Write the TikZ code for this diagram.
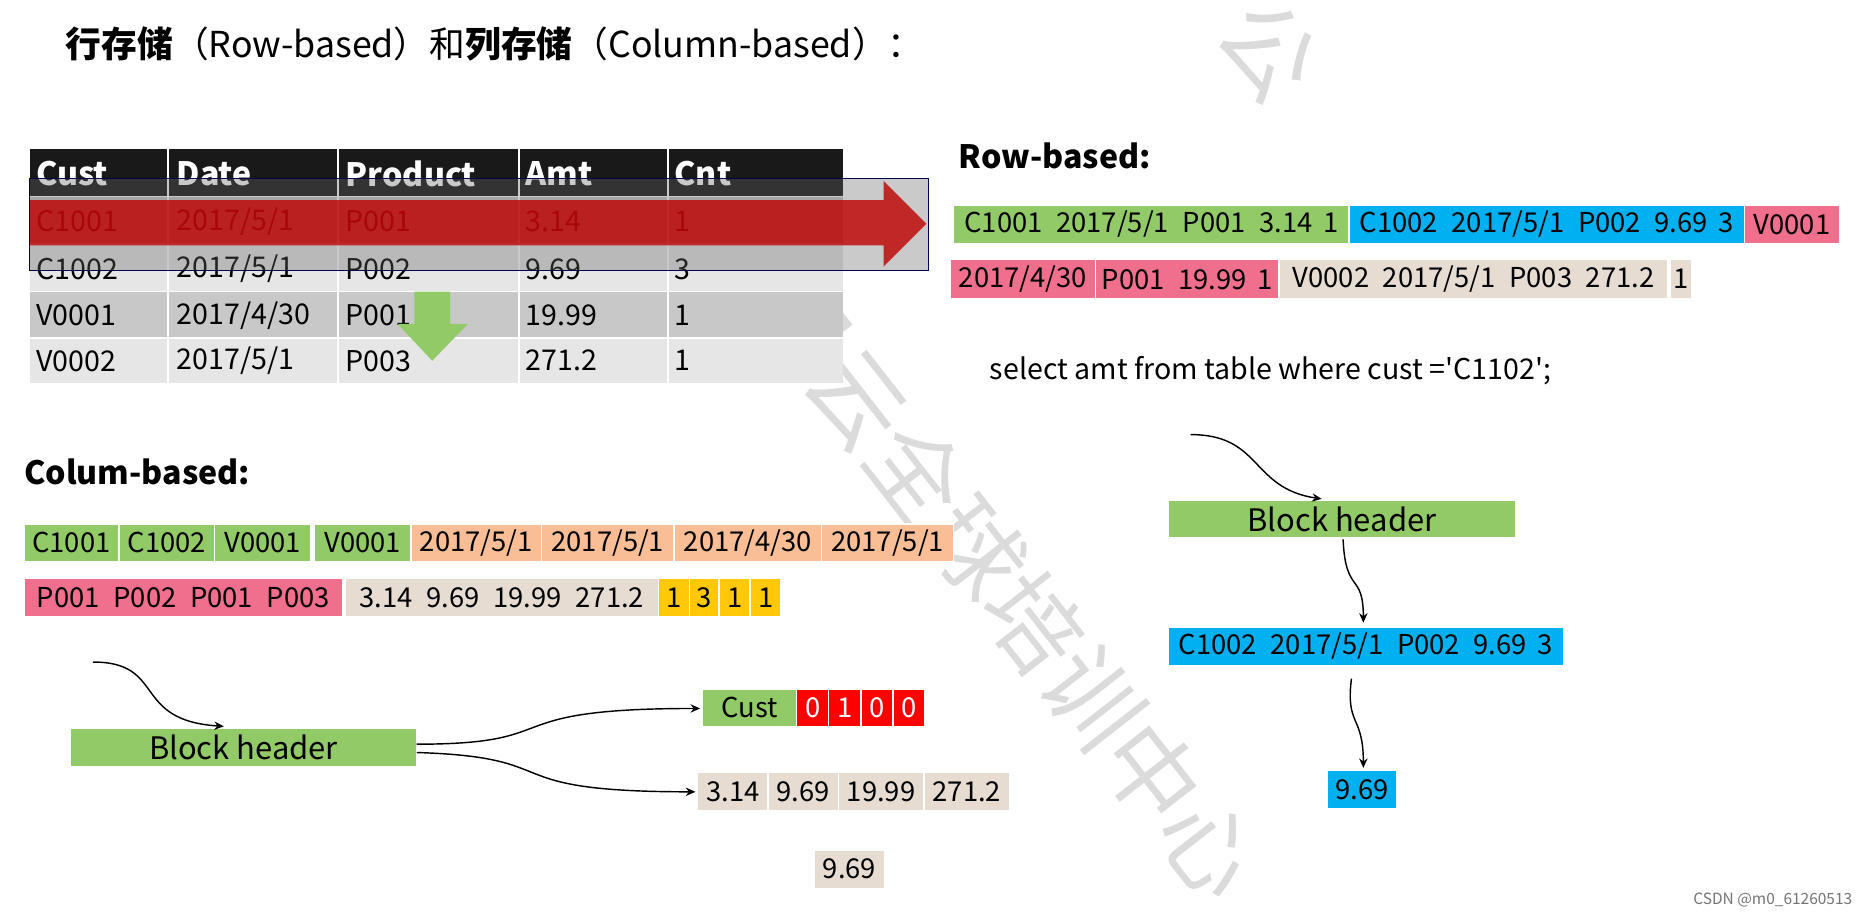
\documentclass[tikz,border=0pt]{standalone}
\usepackage{fontspec}
\setmainfont{Noto Sans CJK SC}[Ligatures=TeXOff]
\usetikzlibrary{arrows.meta}
\definecolor{cgreen}{HTML}{92CA68}
\definecolor{cblue}{HTML}{00B0F0}
\definecolor{cpink}{HTML}{EF6F8C}
\definecolor{cbeige}{HTML}{E6DCD2}
\definecolor{corange}{HTML}{F9BE96}
\definecolor{cyellow}{HTML}{FFC90A}
\definecolor{cred}{HTML}{FF0000}
\definecolor{rowdark}{HTML}{C8C8C8}
\definecolor{rowlight}{HTML}{E6E6E6}
\newcommand{\cbox}[7]{\path[fill=#6,draw=white,line width=0.6pt] (#2,#3) rectangle (#4,#5);
  \node[txt] (#1) at ({(#2+#4)/2},{(#3+#5)/2}) {#7};}
\tikzset{
  txt/.style={font=\fontsize{11.5}{13}\selectfont, inner sep=0pt, text=black},
  tcell/.style={font=\fontsize{12}{14}\selectfont, anchor=west, inner sep=0pt},
  hcell/.style={font=\fontsize{13.5}{15}\selectfont\bfseries, anchor=west, inner sep=0pt, text=white},
  lbl/.style={font=\fontsize{13.5}{15}\selectfont\bfseries, anchor=west, inner sep=0pt},
  conn/.style={-{Stealth[length=4pt,width=3.5pt]}, line width=0.6pt},
}
\begin{document}
\begin{tikzpicture}[x=0.5pt,y=-0.5pt]
\useasboundingbox (0,0) rectangle (1568,771);
% watermark
\node[text=black!14, font=\fontsize{40}{40}\selectfont, rotate=-52, inner sep=0pt] (wm) at (820,460) {阿里云全球培训中心};
\node[text=black!14, font=\fontsize{40}{40}\selectfont, rotate=-52, inner sep=0pt] (wm2) at (1066,42) {公};
% title
\node[anchor=west, font=\fontsize{15}{17}\selectfont, inner sep=0pt] (title) at (55,37) {\textbf{行存储}（Row-based）和\textbf{列存储}（Column-based）：};
% table
\fill[black!90] (25,125) rectangle (708,165);
\fill[rowdark] (25,165) rectangle (708,205);
\fill[rowlight] (25,205) rectangle (708,245);
\fill[rowdark] (25,245) rectangle (708,284);
\fill[rowlight] (25,284) rectangle (708,322);
\foreach \x in {141,284,436,561} \draw[white,line width=0.6pt] (\x,125) -- (\x,322);
\foreach \y in {165,205,245,284} \draw[white,line width=0.6pt] (25,\y) -- (708,\y);
\foreach \x/\t [count=\i] in {30/Cust,148/Date,290/Product,441/Amt,566/Cnt} \node[hcell] (h\i) at (\x,146) {\t};
\foreach \x/\t [count=\i] in {30/C1001,148/{2017/5/1},290/P001,441/3.14,566/1} \node[tcell,text=black!70!red] (ra\i) at (\x,186) {\t};
\foreach \x/\t [count=\i] in {30/C1002,148/{2017/5/1},290/P002,441/9.69,566/3} \node[tcell] (rb\i) at (\x,226) {\t};
\foreach \x/\t [count=\i] in {30/V0001,148/{2017/4/30},290/P001,441/19.99,566/1} \node[tcell] (rc\i) at (\x,265) {\t};
\foreach \x/\t [count=\i] in {30/V0002,148/{2017/5/1},290/P003,441/271.2,566/1} \node[tcell] (rd\i) at (\x,303) {\t};
% overlay + red arrow
\fill[fill=black!60,opacity=0.35] (25,150) rectangle (780,227);
\draw[black!70!blue,line width=0.6pt] (25,150) rectangle (780,227);
\fill[red!75!black,opacity=0.8] (25,168) -- (742,168) -- (742,152) -- (778,188) -- (742,224) -- (742,206) -- (25,206) -- cycle;
% green arrow
\fill[cgreen] (348,245) -- (378,245) -- (378,272) -- (393,272) -- (363,303) -- (334,272) -- (348,272) -- cycle;
% Row-based
\node[lbl] (rowlbl) at (805,131) {Row-based:};
\cbox{g1}{801}{172}{1133}{205}{cgreen}{C1001\enspace 2017/5/1\enspace P001\enspace 3.14\, 1}
\cbox{b1}{1133}{172}{1465}{205}{cblue}{C1002\enspace 2017/5/1\enspace P002\enspace 9.69\, 3}
\cbox{p1}{1465}{172}{1545}{205}{cpink}{V0001}
\cbox{p2}{798}{218}{920}{251}{cpink}{2017/4/30}
\cbox{p3}{920}{218}{1074}{251}{cpink}{P001\enspace 19.99\, 1}
\cbox{e1}{1074}{218}{1401}{251}{cbeige}{V0002\enspace 2017/5/1\enspace P003\enspace 271.2}
\cbox{e2}{1403}{218}{1421}{251}{cbeige}{1}
\node[anchor=west, font=\fontsize{12}{14}\selectfont, inner sep=0pt] (sql) at (831,311) {select amt from table where cust ='C1102';};
% right flow
\coordinate (rs) at (1000,365);
\cbox{rbh}{981}{420}{1273}{452}{cgreen}{\fontsize{13}{15}\selectfont Block header}
\cbox{rrow}{981}{527}{1313}{559}{cblue}{C1002\enspace 2017/5/1\enspace P002\enspace 9.69\, 3}
\coordinate (rm) at (1135,570);
\cbox{rval}{1115}{647}{1173}{679}{cblue}{9.69}
\draw[conn] (rs) .. controls (1060,365) and (1050,410) .. (1110,419);
\draw[conn] (1128,453) .. controls (1130,500) and (1145,480) .. (1145,523);
\draw[conn] (rm) .. controls (1130,610) and (1145,600) .. (1145,645);
% Colum-based
\node[lbl] (collbl) at (20,396) {Colum-based:};
\cbox{c1}{20}{440}{100}{472}{cgreen}{C1001}
\cbox{c2}{100}{440}{180}{472}{cgreen}{C1002}
\cbox{c3}{180}{440}{261}{472}{cgreen}{V0001}
\cbox{c4}{264}{440}{345}{472}{cgreen}{V0001}
\cbox{d1}{345}{440}{455}{472}{corange}{2017/5/1}
\cbox{d2}{455}{440}{566}{472}{corange}{2017/5/1}
\cbox{d3}{566}{440}{690}{472}{corange}{2017/4/30}
\cbox{d4}{690}{440}{801}{472}{corange}{2017/5/1}
\cbox{pp}{20}{486}{288}{518}{cpink}{P001\enspace P002\enspace P001\enspace P003}
\cbox{aa}{290}{486}{553}{518}{cbeige}{3.14\enspace 9.69\enspace 19.99\enspace 271.2}
\cbox{y1}{553}{486}{579}{518}{cyellow}{1}
\cbox{y2}{579}{486}{604}{518}{cyellow}{3}
\cbox{y3}{604}{486}{630}{518}{cyellow}{1}
\cbox{y4}{630}{486}{656}{518}{cyellow}{1}
% bottom-left flow
\coordinate (ls) at (78,556);
\cbox{lbh}{59}{612}{350}{644}{cgreen}{\fontsize{13}{15}\selectfont Block header}
\cbox{cust}{590}{579}{669}{610}{cgreen}{Cust}
\cbox{z1}{669}{579}{696}{610}{cred}{\textcolor{white}{0}}
\cbox{z2}{696}{579}{723}{610}{cred}{\textcolor{white}{1}}
\cbox{z3}{723}{579}{750}{610}{cred}{\textcolor{white}{0}}
\cbox{z4}{750}{579}{777}{610}{cred}{\textcolor{white}{0}}
\cbox{v1}{586}{649}{645}{681}{cbeige}{3.14}
\cbox{v2}{645}{649}{704}{681}{cbeige}{9.69}
\cbox{v3}{704}{649}{776}{681}{cbeige}{19.99}
\cbox{v4}{776}{649}{848}{681}{cbeige}{271.2}
\cbox{ans}{684}{714}{743}{746}{cbeige}{9.69}
\draw[conn] (ls) .. controls (140,556) and (110,605) .. (188,610);
\draw[conn] (350,625) .. controls (480,625) and (410,595) .. (588,595);
\draw[conn] (350,632) .. controls (480,636) and (410,665) .. (584,665);
% credit
\node[anchor=east, text=black!55, font=\fontsize{6.5}{7}\selectfont, inner sep=0pt] (csdn) at (1556,756) {CSDN @m0\_61260513};
\end{tikzpicture}
\end{document}
